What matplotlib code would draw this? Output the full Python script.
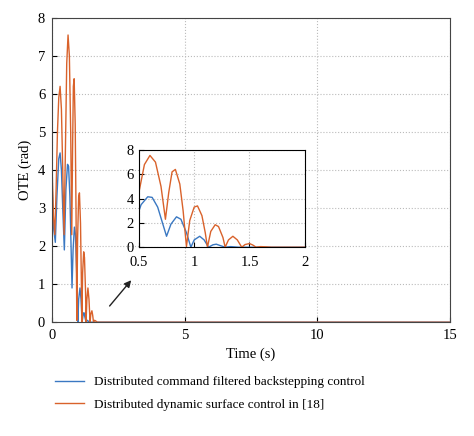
import matplotlib
matplotlib.use("Agg")
import matplotlib.pyplot as plt

t_orange = [0,0.05,0.1,0.15,0.2,0.25,0.3,0.35,0.4,0.45,0.5,0.55,0.6,0.65,0.7,0.74,0.77,0.8,0.83,0.87,0.9,0.93,0.96,1.0,1.03,1.07,1.1,1.12,1.15,1.19,1.22,1.26,1.28,1.31,1.35,1.39,1.43,1.46,1.5,1.53,1.56,1.6,1.65,1.7,15]
v_orange = [4.0,2.8,2.3,3.5,5.0,5.9,6.2,5.6,4.0,2.3,4.5,6.8,7.55,7.0,5.0,2.3,4.5,6.2,6.4,5.2,3.0,0.05,2.2,3.3,3.4,2.6,1.2,0,1.3,1.85,1.7,0.8,0,0.6,0.9,0.6,0,0.22,0.3,0.18,0,0.05,0.03,0,0]
t_blue = [0,0.05,0.12,0.18,0.25,0.3,0.35,0.4,0.46,0.52,0.58,0.62,0.67,0.72,0.75,0.79,0.84,0.88,0.93,0.97,1.0,1.05,1.09,1.13,1.17,1.2,1.24,1.28,1.33,1.4,15]
v_blue = [3.6,2.5,2.1,3.3,4.3,4.45,4.0,3.0,1.9,3.5,4.15,4.1,3.3,1.8,0.9,1.9,2.5,2.3,1.2,0,0.6,0.9,0.6,0,0.2,0.25,0.12,0,0.05,0,0]
labels = ["Distributed command filtered backstepping control",
          "Distributed dynamic surface control in [18]"]

plt.rcParams['font.family'] = ['Liberation Serif', 'DejaVu Serif']
BLUE, ORANGE = '#3a78c2', '#d9622b'

fig = plt.figure(figsize=(4.74, 4.36), dpi=100)
ax = fig.add_axes([0.11, 0.261, 0.839, 0.698])
l1, = ax.plot(t_blue, v_blue, color=BLUE, lw=1)
l2, = ax.plot(t_orange, v_orange, color=ORANGE, lw=1)
ax.set_xlim(0, 15); ax.set_ylim(0, 8)
ax.set_xticks([0, 5, 10, 15]); ax.set_yticks(range(9))
ax.grid(True, linestyle=':', color='#bbbbbb', lw=0.8)
ax.set_xlabel("Time (s)", fontsize=10.5)
ax.set_ylabel("OTE (rad)", fontsize=10.5)
ax.tick_params(labelsize=10.5, direction='in', pad=5)
for s in ax.spines.values():
    s.set_color('#444444')
ax.annotate("", xy=(3.05, 1.16), xytext=(2.1, 0.37),
            arrowprops=dict(arrowstyle='-|>', color='#222222', lw=1))

ins = fig.add_axes([0.293, 0.433, 0.35, 0.223])
ins.plot(t_blue, v_blue, color=BLUE, lw=1)
ins.plot(t_orange, v_orange, color=ORANGE, lw=1)
ins.set_xlim(0.5, 2); ins.set_ylim(0, 8)
ins.set_xticks([0.5, 1, 1.5, 2]); ins.set_xticklabels(['0.5', '1', '1.5', '2'])
ins.set_yticks([0, 2, 4, 6, 8])
ins.grid(True, linestyle=':', color='#bbbbbb', lw=0.8)
ins.tick_params(labelsize=10.5, direction='in')
ins.tick_params(axis='x', pad=6)

fig.legend([l1, l2], labels, loc='lower left', bbox_to_anchor=(0.09, 0.03),
           frameon=False, fontsize=9.5, handlelength=2.2, labelspacing=0.8)
fig.savefig("out.png", dpi=100)
